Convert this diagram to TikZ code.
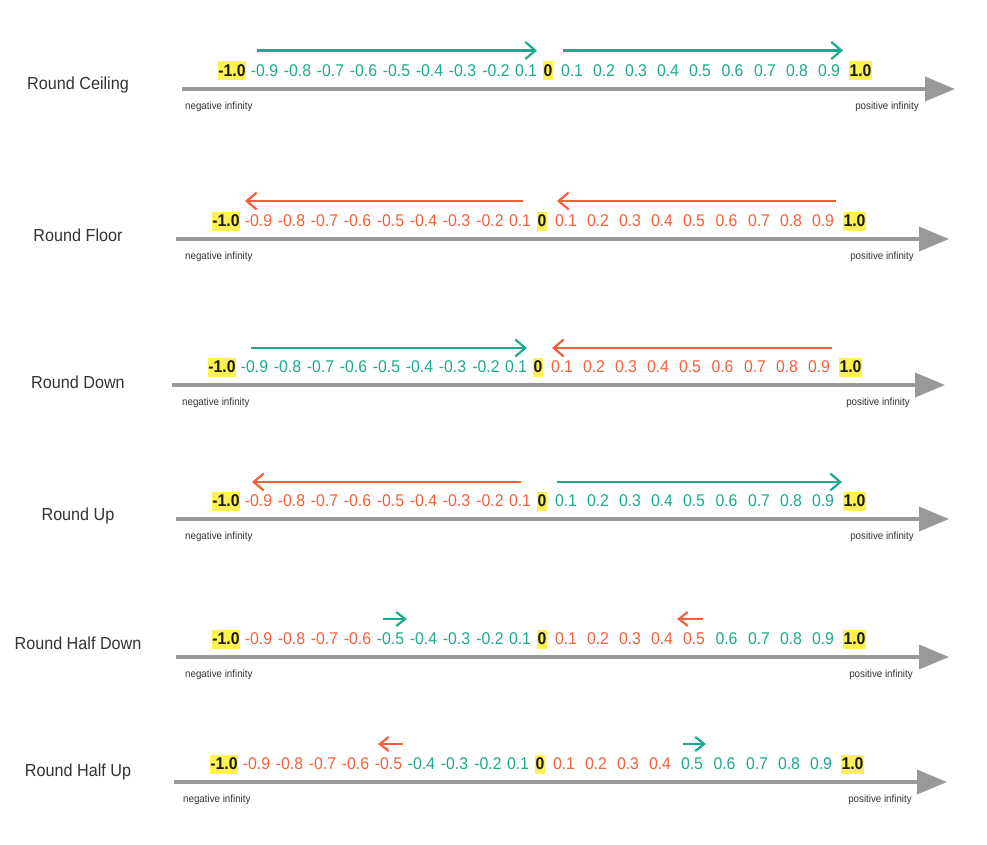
\documentclass[tikz,border=0pt]{standalone}
\usepackage{fontspec}
\setmainfont[FakeStretch=0.93]{Liberation Sans}
\usetikzlibrary{arrows.meta}
\definecolor{grn}{HTML}{1BAA8F}
\definecolor{orng}{HTML}{F4603C}
\definecolor{hl}{HTML}{FFF250}
\definecolor{axisgray}{HTML}{999999}
\definecolor{lbl}{HTML}{333333}
\tikzset{
  num/.style={font=\fontsize{17}{20}\selectfont, inner sep=0pt, anchor=center},
  hlnum/.style={fill=hl, font=\fontsize{17}{20}\selectfont\bfseries, text=black!90, inner xsep=0.8pt, inner ysep=0pt, minimum height=19pt, anchor=center},
  rowlabel/.style={font=\fontsize{17.4}{20}\selectfont, text=lbl},
  inflabel/.style={font=\fontsize{10.5}{12}\selectfont, text=lbl, inner sep=0pt},
  axisline/.style={draw=axisgray, line width=3.6pt, -{Triangle[length=30pt,width=24pt]}},
  rarrow/.style={line width=2.2pt, -{Straight Barb[length=10pt,width=17pt,line width=2.2pt]}},
  sarrow/.style={line width=2.2pt, -{Straight Barb[length=9pt,width=14pt,line width=2.2pt]}},
}
% #1 id, #2 dx, #3 y of numbers, #4 first green index on left, #5 last orange index on right,
% #6 x of "negative infinity", #7 x of "positive infinity", #8 row label, #9 y of row label
\newcommand\numrow[9]{%
  \node[rowlabel] (#1lab) at (78,#9) {#8};
  \coordinate (#1s) at ({182+#2},{#3+18});
  \coordinate (#1e) at ({955+#2},{#3+18});
  \draw[axisline] (#1s) -- (#1e);
  \node[inflabel, anchor=west] (#1neg) at (#6,{#3+35.5}) {negative infinity};
  \node[inflabel] (#1pos) at (#7,{#3+35.5}) {positive infinity};
  \node[hlnum] (#1m) at ({232+#2},#3) {-1.0};
  \node[hlnum] (#1z) at ({548+#2},#3) {0};
  \node[hlnum] (#1p) at ({860.5+#2},#3) {1.0};
  \foreach \x/\t [count=\i] in {264.5/-0.9,297.5/-0.8,330.5/-0.7,363.5/-0.6,396.5/-0.5,429.5/-0.4,462.5/-0.3,496/-0.2,526/0.1}{
    \ifnum\i<#4 \def\c{orng}\else\def\c{grn}\fi
    \node[num, text=\c] (#1L\i) at ({\x+#2},#3) {\t};
  }
  \foreach \x/\t [count=\i] in {572/0.1,604/0.2,636/0.3,668/0.4,700/0.5,732.5/0.6,765/0.7,797/0.8,829/0.9}{
    \ifnum\i>#5 \def\c{grn}\else\def\c{orng}\fi
    \node[num, text=\c] (#1R\i) at ({\x+#2},#3) {\t};
  }
}
\begin{document}
\begin{tikzpicture}[x=1pt,y=-1pt]
\useasboundingbox (0,0) rectangle (987,845);

\numrow{r1}{0}{71}{1}{0}{185}{887}{Round Ceiling}{85}
\numrow{r2}{-6}{221}{10}{9}{185}{882}{Round Floor}{235}
\numrow{r3}{-10}{367}{1}{9}{182}{878}{Round Down}{382}
\numrow{r4}{-6}{501}{10}{0}{185}{882}{Round Up}{516}
\numrow{r5}{-6}{639}{5}{5}{185}{881}{Round Half Down}{643}
\numrow{r6}{-8}{764}{6}{4}{183}{880}{Round Half Up}{772}

% Round Ceiling
\coordinate (r1a1) at (257,50.5); \coordinate (r1a2) at (537,50.5);
\coordinate (r1a3) at (563,50.5); \coordinate (r1a4) at (843,50.5);
\draw[rarrow, grn] (r1a1) -- (r1a2);
\draw[rarrow, grn] (r1a3) -- (r1a4);
% Round Floor
\coordinate (r2a1) at (523,201); \coordinate (r2a2) at (245,201);
\coordinate (r2a3) at (836,201); \coordinate (r2a4) at (557,201);
\draw[rarrow, orng] (r2a1) -- (r2a2);
\draw[rarrow, orng] (r2a3) -- (r2a4);
% Round Down
\coordinate (r3a1) at (251,348); \coordinate (r3a2) at (527,348);
\coordinate (r3a3) at (832,348); \coordinate (r3a4) at (552,348);
\draw[rarrow, grn] (r3a1) -- (r3a2);
\draw[rarrow, orng] (r3a3) -- (r3a4);
% Round Up
\coordinate (r4a1) at (521,482); \coordinate (r4a2) at (252,482);
\coordinate (r4a3) at (557,482); \coordinate (r4a4) at (842,482);
\draw[rarrow, orng] (r4a1) -- (r4a2);
\draw[rarrow, grn] (r4a3) -- (r4a4);
% Round Half Down
\coordinate (r5a1) at (383,619); \coordinate (r5a2) at (407,619);
\coordinate (r5a3) at (703,619); \coordinate (r5a4) at (677,619);
\draw[sarrow, grn] (r5a1) -- (r5a2);
\draw[sarrow, orng] (r5a3) -- (r5a4);
% Round Half Up
\coordinate (r6a1) at (403,744); \coordinate (r6a2) at (378,744);
\coordinate (r6a3) at (683,744); \coordinate (r6a4) at (706,744);
\draw[sarrow, orng] (r6a1) -- (r6a2);
\draw[sarrow, grn] (r6a3) -- (r6a4);
\end{tikzpicture}
\end{document}
